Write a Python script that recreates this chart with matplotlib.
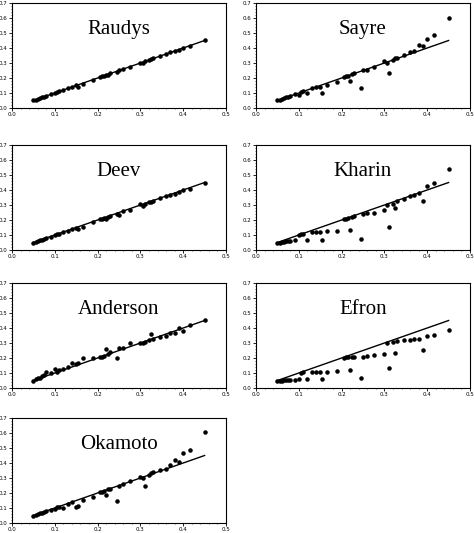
import matplotlib.pyplot as plt

# shared x values (true error), per-method estimates
x = [0.05, 0.055, 0.06, 0.065, 0.07, 0.075, 0.08, 0.09, 0.10, 0.105, 0.11, 0.12,
     0.13, 0.14, 0.15, 0.155, 0.165, 0.19, 0.205, 0.21, 0.215, 0.22, 0.225, 0.23,
     0.245, 0.25, 0.26, 0.275, 0.30, 0.305, 0.31, 0.32, 0.325, 0.33, 0.345, 0.36,
     0.37, 0.38, 0.39, 0.40, 0.415, 0.45]

raudys = [0.05, 0.055, 0.06, 0.065, 0.07, 0.075, 0.08, 0.09, 0.10, 0.105, 0.11, 0.12,
          0.13, 0.14, 0.15, 0.14, 0.16, 0.185, 0.205, 0.21, 0.215, 0.22, 0.22, 0.23,
          0.24, 0.255, 0.26, 0.275, 0.30, 0.30, 0.31, 0.32, 0.325, 0.33, 0.345, 0.36,
          0.37, 0.38, 0.385, 0.40, 0.415, 0.45]
sayre = [0.05, 0.055, 0.06, 0.065, 0.07, 0.075, 0.08, 0.09, 0.085, 0.105, 0.11, 0.10,
         0.13, 0.14, 0.14, 0.10, 0.15, 0.17, 0.205, 0.21, 0.215, 0.18, 0.225, 0.23,
         0.13, 0.25, 0.255, 0.275, 0.31, 0.30, 0.235, 0.32, 0.33, 0.335, 0.355, 0.37,
         0.38, 0.42, 0.41, 0.46, 0.49, 0.60]
deev = [0.05, 0.055, 0.06, 0.065, 0.07, 0.075, 0.08, 0.09, 0.10, 0.105, 0.11, 0.12,
        0.13, 0.14, 0.15, 0.14, 0.155, 0.185, 0.205, 0.21, 0.215, 0.205, 0.22, 0.23,
        0.24, 0.235, 0.26, 0.27, 0.305, 0.295, 0.31, 0.32, 0.32, 0.33, 0.35, 0.36,
        0.37, 0.375, 0.385, 0.40, 0.405, 0.445]
kharin = [0.05, 0.05, 0.055, 0.055, 0.06, 0.06, 0.06, 0.065, 0.10, 0.105, 0.11, 0.065,
          0.12, 0.12, 0.12, 0.07, 0.125, 0.13, 0.205, 0.21, 0.215, 0.135, 0.22, 0.23,
          0.075, 0.24, 0.245, 0.25, 0.265, 0.30, 0.155, 0.31, 0.28, 0.325, 0.34, 0.36,
          0.37, 0.38, 0.325, 0.43, 0.45, 0.54]
anderson = [0.05, 0.06, 0.065, 0.07, 0.08, 0.085, 0.11, 0.10, 0.13, 0.11, 0.12, 0.125,
            0.14, 0.17, 0.16, 0.17, 0.20, 0.20, 0.205, 0.21, 0.215, 0.26, 0.225, 0.24,
            0.20, 0.27, 0.27, 0.30, 0.30, 0.30, 0.31, 0.32, 0.36, 0.33, 0.34, 0.35,
            0.37, 0.37, 0.40, 0.38, 0.42, 0.455]
efron = [0.045, 0.05, 0.05, 0.055, 0.055, 0.055, 0.055, 0.055, 0.06, 0.10, 0.105, 0.06,
         0.105, 0.11, 0.11, 0.06, 0.11, 0.115, 0.20, 0.205, 0.21, 0.12, 0.21, 0.21,
         0.07, 0.21, 0.215, 0.22, 0.23, 0.30, 0.135, 0.31, 0.235, 0.315, 0.32, 0.32,
         0.325, 0.33, 0.255, 0.345, 0.355, 0.385]
okamoto = [0.05, 0.055, 0.06, 0.065, 0.07, 0.075, 0.08, 0.09, 0.095, 0.105, 0.11, 0.10,
           0.13, 0.14, 0.11, 0.115, 0.155, 0.175, 0.205, 0.21, 0.215, 0.19, 0.225, 0.23,
           0.145, 0.25, 0.26, 0.28, 0.31, 0.30, 0.245, 0.32, 0.335, 0.34, 0.355, 0.36,
           0.39, 0.42, 0.41, 0.465, 0.49, 0.61]

line_x = [0.05, 0.45]
panels = [("Raudys", raudys), ("Sayre", sayre), ("Deev", deev), ("Kharin", kharin),
          ("Anderson", anderson), ("Efron", efron), ("Okamoto", okamoto)]

fig = plt.figure(figsize=(4.74, 5.33), dpi=100)
W, H = 474, 533
lefts = [12, 256]
tops = [3, 145, 283, 418]
aw, ah = 214, 105

for i, (name, y) in enumerate(panels):
    col, row = i % 2, i // 2
    ax = fig.add_axes([lefts[col] / W, 1 - (tops[row] + ah) / H, aw / W, ah / H])
    ax.plot(line_x, line_x, color='black', linewidth=1)
    ax.scatter(x, y, s=5, color='black', zorder=3)
    ax.set_xlim(0, 0.5)
    ax.set_ylim(0, 0.7)
    ax.set_xticks([0, 0.1, 0.2, 0.3, 0.4, 0.5])
    ax.set_yticks([0, 0.1, 0.2, 0.3, 0.4, 0.5, 0.6, 0.7])
    ax.set_xticks([j * 0.02 for j in range(26)], minor=True)
    ax.set_yticks([j * 0.02 for j in range(36)], minor=True)
    ax.tick_params(labelsize=4, length=2, width=0.6, pad=1)
    ax.tick_params(which='minor', length=1, width=0.4)
    ax.set_xticklabels(['0.0', '0.1', '0.2', '0.3', '0.4', '0.5'])
    ax.set_yticklabels(['0.0', '0.1', '0.2', '0.3', '0.4', '0.5', '0.6', '0.7'])
    for s in ax.spines.values():
        s.set_linewidth(0.8)
    ax.text(0.5, 0.75, name, transform=ax.transAxes, ha='center', va='center',
            fontsize=15, family='Liberation Serif')

plt.savefig('out.png', dpi=100)
